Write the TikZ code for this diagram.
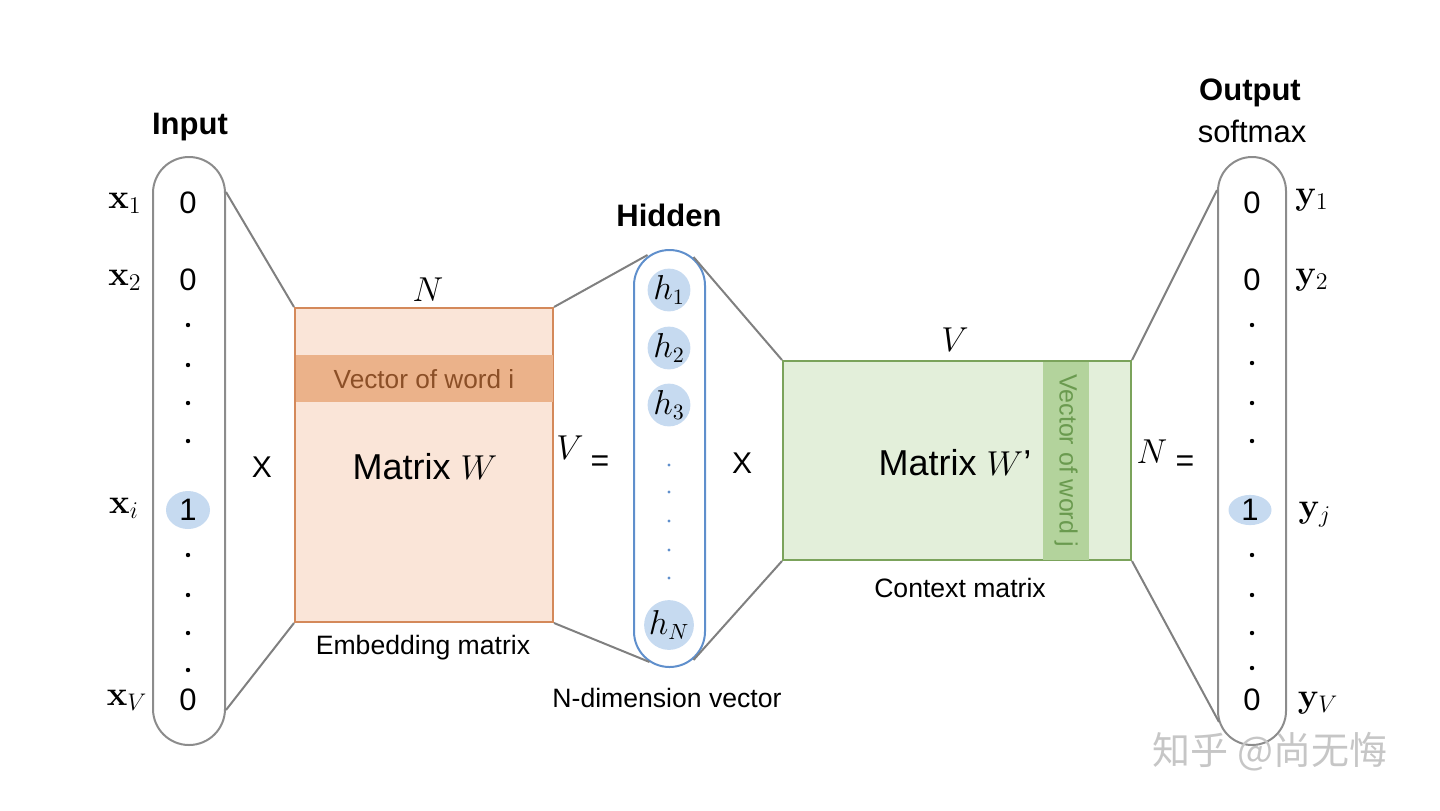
\documentclass[tikz,border=0pt]{standalone}
\usepackage{amsmath}
\usepackage[no-math]{fontspec}
\setmainfont{Liberation Sans}
\newfontfamily\cjk{Noto Sans CJK SC}
\usetikzlibrary{calc}
\usetikzlibrary{shapes.geometric}

\definecolor{capgray}{HTML}{8C8C8C}
\definecolor{linegray}{HTML}{808080}
\definecolor{hotblue}{HTML}{C6DAF0}
\definecolor{hidblue}{HTML}{5F8FCC}
\definecolor{embdraw}{HTML}{D4895A}
\definecolor{embfill}{HTML}{FAE5D8}
\definecolor{embband}{HTML}{EBB28A}
\definecolor{embtext}{HTML}{8B4F27}
\definecolor{ctxdraw}{HTML}{7BA35B}
\definecolor{ctxfill}{HTML}{E3EFDA}
\definecolor{ctxband}{HTML}{B3D39C}
\definecolor{ctxtext}{HTML}{6A9A4F}

\begin{document}
\begin{tikzpicture}[x=0.5pt,y=-0.5pt,
    link/.style={draw=linegray,line width=1pt},
    capsule/.style={draw=capgray,line width=1pt,inner sep=0pt},
    val/.style={font=\fontsize{15.5}{18}\selectfont,inner sep=0pt},
    mlab/.style={font=\fontsize{16.5}{19}\selectfont,inner sep=0pt},
    dimlab/.style={font=\fontsize{18}{20}\selectfont,inner sep=0pt},
    lbl/.style={font=\fontsize{13.3}{16}\selectfont,inner sep=0pt},
    head/.style={font=\fontsize{15.5}{18}\selectfont\bfseries,inner sep=0pt},
    opsign/.style={font=\fontsize{15}{18}\selectfont,inner sep=0pt},
    eqsign/.style={font=\fontsize{16}{18}\selectfont,inner sep=0pt},
    hot/.style={ellipse,fill=hotblue,inner sep=0pt},
    hcell/.style={circle,fill=hotblue,minimum size=20pt,inner sep=0pt,font=\fontsize{16}{18}\selectfont}]
  \useasboundingbox (0,0) rectangle (1440,810);

  % input one-hot vector
  \node[capsule,minimum width=36pt,minimum height=294pt,rounded corners=18pt] (in) at (189,451) {};
  \node[head] (inhead) at (190,127) {Input};
  \foreach \name/\y/\v in {xa/203/0,xb/280/0,xv/700/0}
    \node[val] (\name) at (188,\y) {\v};
  \node[val,hot,minimum width=22pt,minimum height=19pt] (xi) at (188,510) {1};
  \foreach \y in {325,365,403,441,555,595,633,670}
    \fill (188,\y) circle (1.1pt);
  \node[mlab] (lxa) at (125,203) {$\mathbf{x}_1$};
  \node[mlab] (lxb) at (125,280) {$\mathbf{x}_2$};
  \node[mlab] (lxi) at (124,508) {$\mathbf{x}_i$};
  \node[mlab] (lxv) at (127,700) {$\mathbf{x}_V$};
  \node[opsign] (times1) at (262,467) {X};

  % embedding matrix
  \node[draw=embdraw,fill=embfill,line width=1pt,minimum width=129pt,minimum height=157pt] (W) at (424,465) {};
  \node[fill=embband,minimum width=128.5pt,minimum height=23.5pt,inner sep=0pt,anchor=north] (Wi) at ($(W.north)+(0,-24pt)$) {};
  \node[lbl,text=embtext,font=\fontsize{13.1}{16}\selectfont] at (Wi) {Vector of word i};
  \node[font=\fontsize{18}{20}\selectfont] (Wtxt) at (425,467) {Matrix $W$};
  \node[dimlab] (WN) at (428,290) {$N$};
  \node[dimlab] (WV) at (570,448) {$V$};
  \node[eqsign] (eq1) at (600,464) {=};
  \node[lbl] (Wcap) at (423,648) {Embedding matrix};

  \draw[link] ($(in.north east)+(0,-18pt)$) -- (W.north west);
  \draw[link] ($(in.south east)+(0,18pt)$) -- (W.south west);

  % hidden layer
  \node[capsule,draw=hidblue,minimum width=35.5pt,minimum height=208.5pt,rounded corners=17.75pt] (hid) at (669.5,458.5) {};
  \node[head] (hidhead) at (669,215) {Hidden};
  \node[hcell] (h1) at (669,290) {$h_1$};
  \node[hcell] (h2) at (669,348) {$h_2$};
  \node[hcell] (h3) at (669,405) {$h_3$};
  \node[hcell] (hN) at (669,625) {$h_N$};
  \foreach \y in {465,492,521,550,578}
    \fill[hidblue] (669,\y) circle (0.8pt);
  \node[lbl] (hidcap) at (667,698) {N-dimension vector};

  \draw[link] (W.north east) -- ($(hid.north)+(-11pt,-3pt)$);
  \draw[link] (W.south east) -- ($(hid.south)+(-10pt,3pt)$);

  \node[opsign] (times2) at (742,463) {X};

  % context matrix
  \node[draw=ctxdraw,fill=ctxfill,line width=1pt,minimum width=174pt,minimum height=99.5pt] (C) at (957,460.5) {};
  \node[fill=ctxband,minimum width=23pt,minimum height=99pt,inner sep=0pt] (Cj) at (1066,460.5) {};
  \node[lbl,rotate=-90,text=ctxtext,font=\fontsize{12.5}{15}\selectfont] at (Cj) {Vector of word j};
  \node[font=\fontsize{18}{20}\selectfont] (Ctxt) at (955,463) {Matrix $W$’};
  \node[dimlab] (CV) at (955,340) {$V$};
  \node[dimlab] (CN) at (1152,452) {$N$};
  \node[eqsign] (eq2) at (1185,464) {=};
  \node[lbl] (Ccap) at (960,588) {Context matrix};

  \draw[link] ($(hid.north)+(12pt,-4pt)$) -- (C.north west);
  \draw[link] ($(hid.south)+(12pt,4pt)$) -- (C.south west);

  % output softmax vector
  \node[capsule,minimum width=34pt,minimum height=294pt,rounded corners=17pt] (out) at (1252,451) {};
  \node[head] (outhead) at (1250,93) {Output};
  \node[font=\fontsize{15.5}{18}\selectfont,inner sep=0pt] (outsub) at (1252,131) {softmax};
  \foreach \name/\y/\v in {ya/203/0,yb/280/0,yv/700/0}
    \node[val] (\name) at (1252,\y) {\v};
  \node[val,hot,minimum width=21.5pt,minimum height=15pt] (yj) at (1250,510) {1};
  \foreach \y in {325,363,403,441,555,595,633,668}
    \fill (1252,\y) circle (1.1pt);
  \node[mlab] (lya) at (1312,200) {$\mathbf{y}_1$};
  \node[mlab] (lyb) at (1312,280) {$\mathbf{y}_2$};
  \node[mlab] (lyj) at (1315,515) {$\mathbf{y}_j$};
  \node[mlab] (lyv) at (1318,703) {$\mathbf{y}_V$};

  \draw[link] (C.north east) -- ($(out.north west)+(0,-17pt)$);
  \draw[link] (C.south east) -- ($(out.south west)+(1pt,12pt)$);

  % watermark
  \node[font=\cjk\fontsize{19}{22}\selectfont,text=gray!45] (mark) at (1270,752) {知乎 @尚无悔};
\end{tikzpicture}
\end{document}
